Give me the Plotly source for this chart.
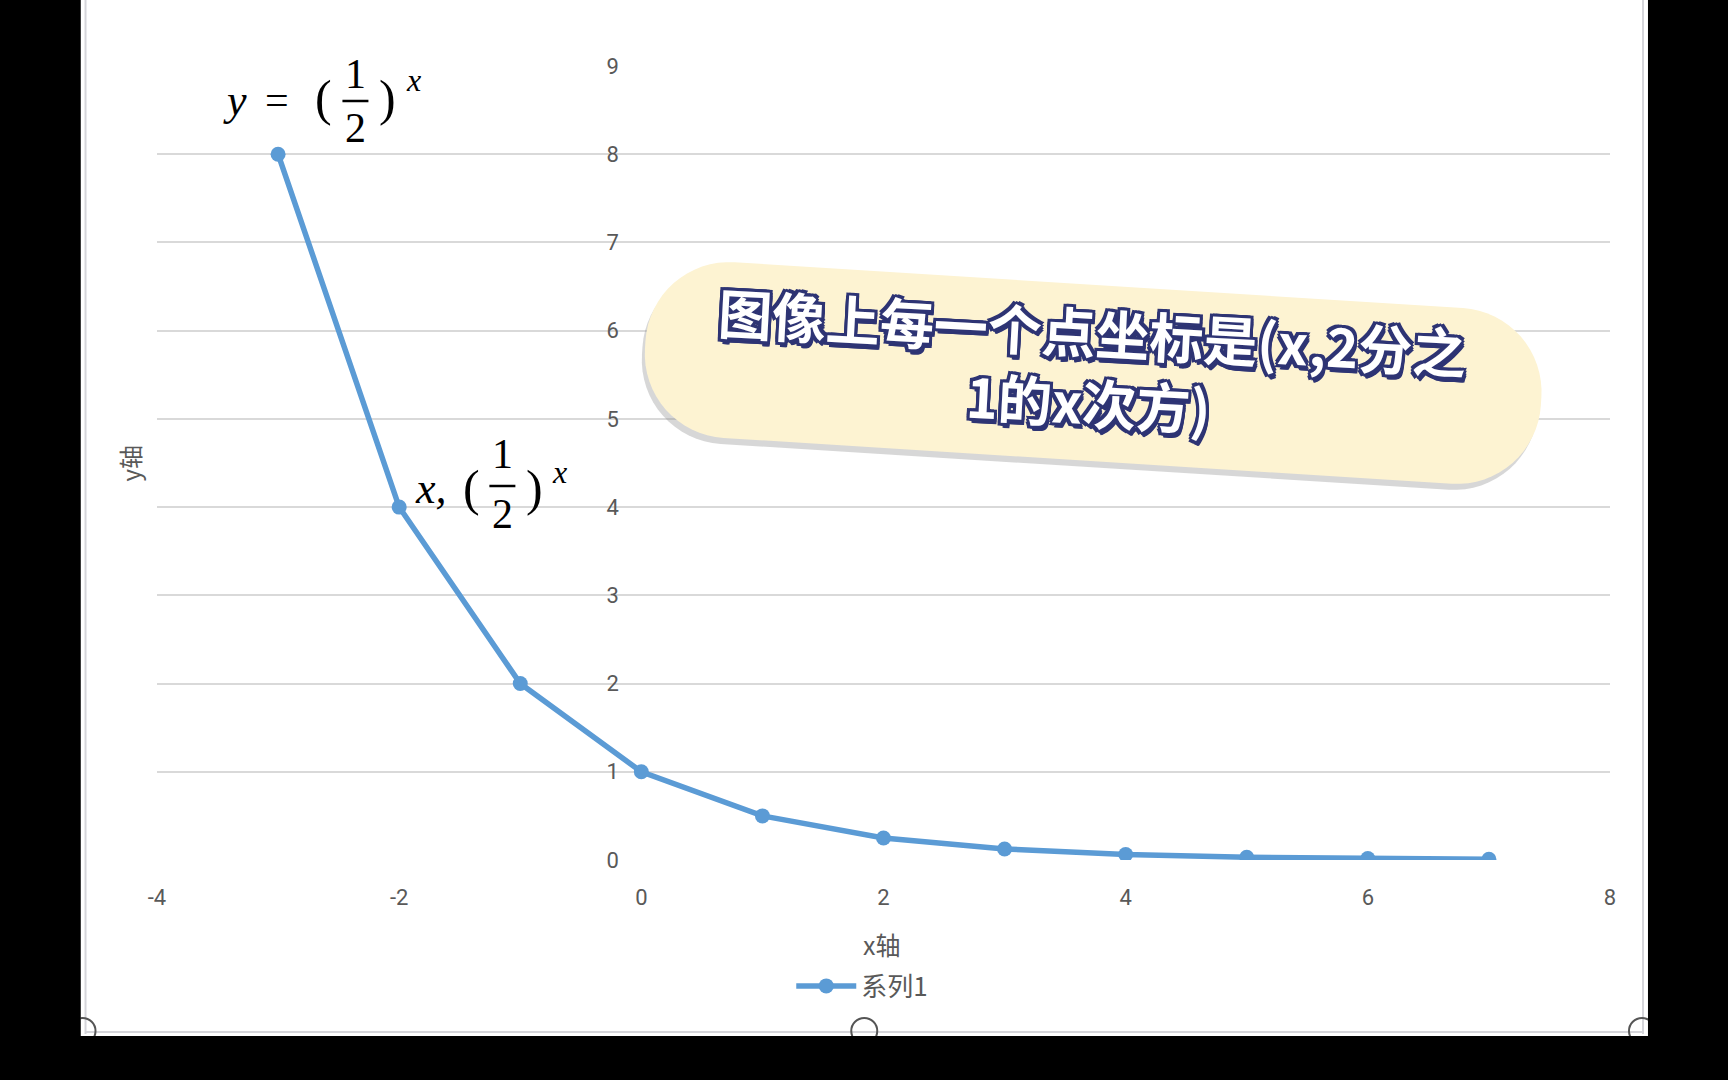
import math
import plotly.graph_objects as go

# ---- data ----
x_vals = [-3, -2, -1, 0, 1, 2, 3, 4, 5, 6, 7]
y_vals = [8, 4, 2, 1, 0.5, 0.25, 0.125, 0.0625, 0.03125, 0.015625, 0.0078125]
series_name = "系列1"
x_title = "x轴"
y_title = "y轴"
callout_text = "图像上每一个点坐标是(x,2分之<br>1的x次方)"
x_ticks = [-4, -2, 0, 2, 4, 6, 8]
x_tick_labels = ["-4", "-2", "0", "2", "4", "6", "8"]
y_ticks = [0, 1, 2, 3, 4, 5, 6, 7, 8, 9]

W, H = 1728, 1080
L, R, T, B = 156.5, 118, 66, 220
PW, PH = W - L - R, H - T - B


def px(x):
    return (x - L) / PW


def py(y):
    return (H - B - y) / PH


BLUE = "#5B9BD5"
GRAY = "#595959"

fig = go.Figure()
fig.add_trace(go.Scatter(
    x=x_vals, y=y_vals, mode="lines+markers", name=series_name,
    line=dict(color=BLUE, width=5.5),
    marker=dict(color=BLUE, size=15),
))

shapes = []
# white sheet background
shapes.append(dict(type="rect", xref="paper", yref="paper", layer="below",
                   x0=px(80), x1=px(1648), y0=py(1036), y1=py(0),
                   fillcolor="white", line=dict(width=0)))
# spreadsheet borders
for xx in (85, 1643):
    shapes.append(dict(type="line", xref="paper", yref="paper", layer="below",
                       x0=px(xx), x1=px(xx), y0=py(1034), y1=py(0),
                       line=dict(color="#D5D5DA", width=2)))
shapes.append(dict(type="line", xref="paper", yref="paper", layer="below",
                   x0=px(85), x1=px(1643), y0=py(1032), y1=py(1032),
                   line=dict(color="#D5D5DA", width=2)))
for cx in (864, 82, 1642):
    shapes.append(dict(type="circle", xref="paper", yref="paper",
                       x0=px(cx - 13), x1=px(cx + 13), y0=py(1031 + 13), y1=py(1031 - 13),
                       fillcolor="rgba(255,255,255,0)", line=dict(color="#555555", width=2)))
# black frame outside the sheet
shapes.append(dict(type="rect", xref="paper", yref="paper",
                   x0=px(0), x1=px(W), y0=py(H), y1=py(1036),
                   fillcolor="black", line=dict(width=0)))
shapes.append(dict(type="rect", xref="paper", yref="paper",
                   x0=px(0), x1=px(80), y0=py(H), y1=py(0),
                   fillcolor="black", line=dict(width=0)))
shapes.append(dict(type="rect", xref="paper", yref="paper",
                   x0=px(1648), x1=px(W), y0=py(H), y1=py(0),
                   fillcolor="black", line=dict(width=0)))


# rotated rounded rectangle (callout)
def rrect_path(cx, cy, w, h, r, ang_deg, n=16):
    a = math.radians(ang_deg)
    ca, sa = math.cos(a), math.sin(a)
    pts = []
    corners = [(w / 2 - r, -h / 2 + r, -90, 0), (w / 2 - r, h / 2 - r, 0, 90),
               (-w / 2 + r, h / 2 - r, 90, 180), (-w / 2 + r, -h / 2 + r, 180, 270)]
    for (ox, oy, a0, a1) in corners:
        for i in range(n + 1):
            t = math.radians(a0 + (a1 - a0) * i / n)
            lx, ly = ox + r * math.cos(t), oy + r * math.sin(t)
            X = cx + lx * ca - ly * sa
            Y = cy + lx * sa + ly * ca
            pts.append((px(X), py(Y)))
    d = "M " + " L ".join(f"{p[0]:.5f},{p[1]:.5f}" for p in pts) + " Z"
    return d


ANG = 3.6
CX, CY = 1093, 373
shapes.append(dict(type="path", xref="paper", yref="paper",
                   path=rrect_path(CX - 3, CY + 6, 898, 176, 84, ANG),
                   fillcolor="rgba(140,140,140,0.35)", line=dict(width=0)))
shapes.append(dict(type="path", xref="paper", yref="paper",
                   path=rrect_path(CX, CY, 898, 176, 84, ANG),
                   fillcolor="#FDF3D2", line=dict(width=0)))

annotations = []


def txt(x, y, s, size, color="black", family="Liberation Serif", italic=False, **kw):
    if italic:
        s = f"<i>{s}</i>"
    annotations.append(dict(xref="paper", yref="paper", x=px(x), y=py(y), text=s,
                            showarrow=False, xanchor="center", yanchor="middle",
                            font=dict(size=size, color=color, family=family), **kw))


# math label 1: y = (1/2)^x
txt(235, 100, "y", 44, italic=True)
txt(277, 100, "=", 42)
txt(323, 98, "(", 50)
txt(355, 74, "1", 42)
txt(355, 128, "2", 42)
shapes.append(dict(type="line", xref="paper", yref="paper",
                   x0=px(342), x1=px(368), y0=py(101), y1=py(101),
                   line=dict(color="black", width=2.5)))
txt(387, 98, ")", 50)
txt(413, 80, "x", 32, italic=True)

# math label 2: x,(1/2)^x
txt(431, 488, "x,", 44, italic=True)
txt(471, 488, "(", 50)
txt(502, 454, "1", 42)
txt(502, 514, "2", 42)
shapes.append(dict(type="line", xref="paper", yref="paper",
                   x0=px(489), x1=px(515), y0=py(486), y1=py(486),
                   line=dict(color="black", width=2.5)))
txt(534, 488, ")", 50)
txt(559, 472, "x", 32, italic=True)

# callout text
outline = "#2E3474"
offs = [(3, 0), (-3, 0), (0, 3), (0, -3), (2, 2), (-2, -2), (2, -2), (-2, 2),
        (3, 3), (-3, 3), (3, -3), (-3, -3), (2, 5), (3, 5)]
shadow = ", ".join(f"{dx}px {dy}px 0 {outline}" for dx, dy in offs)
annotations.append(dict(xref="paper", yref="paper", x=px(CX - 3), y=py(CY - 8),
                        text=callout_text, showarrow=False, textangle=3.1,
                        xanchor="center", yanchor="middle", align="center",
                        font=dict(size=54, color="white", family="Noto Sans CJK SC",
                                  weight="bold", shadow=shadow)))

# axis titles
txt(881, 944, x_title, 25, color=GRAY, family="Noto Sans CJK SC")
annotations.append(dict(xref="paper", yref="paper", x=px(128), y=py(463), text=y_title,
                        showarrow=False, textangle=-90, xanchor="center", yanchor="middle",
                        font=dict(size=24, color=GRAY, family="Noto Sans CJK SC")))

fig.update_layout(
    width=W, height=H,
    margin=dict(l=L, r=R, t=T, b=B, autoexpand=False),
    paper_bgcolor="black", plot_bgcolor="white",
    shapes=shapes, annotations=annotations,
    showlegend=True,
    legend=dict(orientation="h", x=px(862), y=py(986), xanchor="center", yanchor="middle",
                bgcolor="rgba(0,0,0,0)", itemwidth=60,
                font=dict(size=26, color=GRAY, family="Noto Sans CJK SC")),
    xaxis=dict(range=[-4, 8], tickvals=x_ticks, ticktext=x_tick_labels,
               showgrid=False, zeroline=False,
               showline=False, ticks="outside", ticklen=18, tickcolor="rgba(0,0,0,0)",
               tickfont=dict(size=22, color=GRAY, family="Liberation Sans Narrow, Roboto"),
               fixedrange=True),
    yaxis=dict(range=[0, 9], tickvals=y_ticks, showgrid=True, gridcolor="#D9D9D9",
               gridwidth=2, zeroline=False, showline=False,
               anchor="free", position=4 / 12, ticks="outside", ticklen=18,
               tickcolor="rgba(0,0,0,0)",
               tickfont=dict(size=22, color=GRAY, family="Liberation Sans Narrow, Roboto"),
               fixedrange=True),
)

fig.write_html(
    "out.html",
    config={"displayModeBar": False},
    post_script="document.body.style.margin='0';document.body.style.background='black';",
)
